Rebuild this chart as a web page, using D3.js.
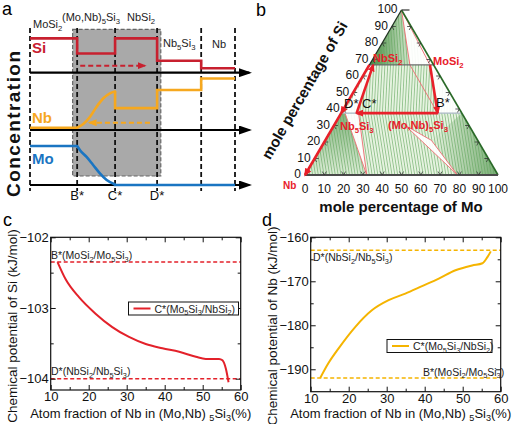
<!DOCTYPE html>
<html>
<head>
<meta charset="utf-8">
<script src="https://cdn.jsdelivr.net/npm/d3@7/dist/d3.min.js"></script>
<style>
  body { margin: 0; background: #fff; }
  svg text { font-family: Arial, "Liberation Sans", Helvetica, sans-serif; }
</style>
</head>
<body>
<svg id="fig" width="520" height="424"></svg>
<script>
// ---------- panel a : schematic concentration profiles ----------
const aBounds = [0, 23, 41.5, 62, 83.5, 100];          // interfaces along the couple (schematic %)
const aPhases = ["MoSi_2", "(Mo,Nb)_5Si_3", "NbSi_2", "Nb_5Si_3", "Nb"];
const aInterfaces = ["B*", "C*", "D*"];
const siLevels = [66, 37, 66, 23, 8.5];
const nbLevels = [4.4, null, 42, 77, 99];
const moLevels = [75, null, 0, 0, 0];
const nbRiseX = [23, 26, 29.3, 32.5, 35.8, 39, 41.5];
const nbRiseC = [4.4, 11.5, 25.6, 44.8, 61, 70.6, 74];
const moDropX = [23, 24.4, 27.6, 30.8, 34.1, 37.4, 41.5];
const moDropC = [75, 67, 54, 38.5, 22.5, 9.6, 1];

// ---------- panel b : Mo-Nb-Si isothermal section (Mo %, Si %) ----------
const ternTicks = [0, 10, 20, 30, 40, 50, 60, 70, 80, 90, 100];
const siliLines = [66.7, 37.5];
const hatchLow = [[0, 0], [100, 0], [62.5, 37.5], [0, 37.5]];
const hatchMid = [[0, 37.5], [62.5, 37.5], [33.3, 66.7], [0, 66.7]];
const hatchTop = [[0, 66.7], [33.3, 66.7], [0, 100]];
const darkFan = [[0, 100], [0, 66.7], [21, 66.7]];
const darkNb = [[0, 37.5], [2, 37.5], [32, 0], [0, 0]];
const darkRight = [[79, 0], [100, 0], [62.5, 37.5], [55, 21]];
const whiteRegions = [
  [[0, 100], [21, 66.7], [33.3, 66.7]],
  [[31.4, 66.7], [33.3, 66.7], [62.5, 37.5], [50, 37.5]],
  [[0.8, 66.7], [2, 66.7], [8, 37.5], [1.5, 37.5]],
  [[2, 37.5], [9, 37.5], [32, 0]],
  [[37, 30], [55, 21], [79, 0]]
];
const pinkFrom = [[0, 100], [0, 100], [21, 66.7], [2, 37.5], [9, 37.5], [37, 30], [55, 21], [37, 30]];
const pinkTo = [[21, 66.7], [31.4, 66.7], [50, 37.5], [32, 0], [32, 0], [79, 0], [79, 0], [55, 21]];
const pathFrom = [[31.4, 66.7], [50, 37.5], [8, 37.5], [0, 66.7], [0, 37.5]];
const pathTo = [[50, 37.5], [8, 37.5], [2, 66.7], [0, 37.5], [0, 0]];

// ---------- panels c, d : chemical potentials vs Nb in (Mo,Nb)5Si3 ----------
const nbFracTicks = [10, 20, 30, 40, 50, 60];
const nbFracMinor = [15, 25, 35, 45, 55];
const muSiTicks = [-102, -103, -104];
const muSiMinor = [-102.5, -103.5];
const muSiB = -102.35;
const muSiD = -104.0;
const muSiX = [11.8, 13.9, 17.5, 21.8, 26.2, 30.6, 35, 39.4, 43.8, 48.2, 50.8, 54.3, 55.2, 56.1, 56.8];
const muSiY = [-102.35, -102.59, -102.85, -103.08, -103.27, -103.41, -103.51, -103.57, -103.62, -103.69, -103.72, -103.72, -103.74, -103.86, -104.05];
const muNbTicks = [-160, -170, -180, -190];
const muNbMinor = [-165, -175, -185];
const muNbB = -192.0;
const muNbD = -162.95;
const muNbX = [12.5, 14.6, 17.3, 21.7, 26.1, 30.5, 34.9, 39.3, 43.7, 48.1, 52.5, 55.2, 56.5, 57.4];
const muNbY = [-192, -188.7, -185.3, -180.4, -176.6, -174.3, -172.8, -171.1, -169.4, -167.5, -166.4, -165.9, -164.5, -163.2];

const RED_A = "#c8202f", ORANGE_A = "#f6a81f", BLUE_A = "#1a75c2";
const RED = "#e3212a", GOLD = "#f5b400";

const svg = d3.select("#fig");
const defs = svg.append("defs");

function marker(id, color, len, wid) {
  defs.append("marker").attr("id", id)
    .attr("viewBox", "0 0 10 10").attr("refX", 8).attr("refY", 5)
    .attr("markerUnits", "userSpaceOnUse")
    .attr("markerWidth", len).attr("markerHeight", wid)
    .attr("preserveAspectRatio", "none")
    .attr("orient", "auto")
    .append("path").attr("d", "M0,0L10,5L0,10z").attr("fill", color);
}
marker("arrBlack", "#000", 13, 9);
marker("arrRedA", RED_A, 9, 7);
marker("arrOrA", ORANGE_A, 9, 7);
marker("arrRed", "#e8202a", 8, 7);

// subscript helper: "_x" -> subscript x
function rich(sel, str, size) {
  const parts = str.split(/(_\w)/).filter(s => s !== "");
  let down = false;
  parts.forEach(p => {
    if (p[0] === "_") {
      sel.append("tspan").attr("dy", down ? 0 : size * 0.25).attr("font-size", size * 0.7).text(p.slice(1));
      down = true;
    } else {
      sel.append("tspan").attr("dy", down ? -size * 0.25 : 0).text(p);
      down = false;
    }
  });
  return sel;
}

// ================= panel a =================
const xa = d3.scaleLinear().domain([0, 100]).range([30, 235]);
const laneBase = [72.7, 130, 185];
const [ySi, yNb, yMo] = laneBase.map(b => d3.scaleLinear().domain([0, 100]).range([b, b - 52]));
const ga = svg.append("g");

ga.append("rect")
  .attr("x", xa(20.8)).attr("y", 29.3)
  .attr("width", xa(63.8) - xa(20.8)).attr("height", 146.7)
  .attr("fill", "#a9a9a9").attr("stroke", "#666")
  .attr("stroke-width", 1.2).attr("stroke-dasharray", "4,2");

ga.selectAll(".bnd").data(aBounds).join("line")
  .attr("x1", d => xa(d)).attr("x2", d => xa(d))
  .attr("y1", 28).attr("y2", 191)
  .attr("stroke", "#111").attr("stroke-width", 1.8).attr("stroke-dasharray", "5,3");

ga.selectAll(".ax").data(laneBase).join("line")
  .attr("x1", xa(0)).attr("x2", xa(107))
  .attr("y1", d => d).attr("y2", d => d)
  .attr("stroke", "#000").attr("stroke-width", 2.2)
  .attr("marker-end", "url(#arrBlack)");

function stepPts(levels, curveX, curveC) {
  const pts = [];
  levels.forEach((c, i) => {
    if (c === null) {
      pts.push([curveX[0], curveC[0]], null, [curveX[curveX.length - 1], curveC[curveC.length - 1]]);
    } else {
      pts.push([aBounds[i], c], [aBounds[i + 1], c]);
    }
  });
  return pts;
}
function drawProfile(levels, yS, color, cx, cy) {
  const line = d3.line().defined(d => d !== null).x(d => xa(d[0])).y(d => yS(d[1]));
  ga.append("path").attr("d", line(stepPts(levels, cx || [], cy || [])))
    .attr("fill", "none").attr("stroke", color).attr("stroke-width", 2.6)
    .attr("stroke-linejoin", "miter");
  if (cx) {
    const cl = d3.line().curve(d3.curveMonotoneX).x(d => xa(d[0])).y(d => yS(d[1]));
    ga.append("path").attr("d", cl(cx.map((x, i) => [x, cy[i]])))
      .attr("fill", "none").attr("stroke", color).attr("stroke-width", 2.6)
      .attr("stroke-linecap", "round");
  }
}
drawProfile(siLevels, ySi, RED_A);
drawProfile(nbLevels, yNb, ORANGE_A, nbRiseX, nbRiseC);
drawProfile(moLevels, yMo, BLUE_A, moDropX, moDropC);

ga.append("line")
  .attr("x1", xa(24.5)).attr("x2", xa(56)).attr("y1", ySi(13.5)).attr("y2", ySi(13.5))
  .attr("stroke", RED_A).attr("stroke-width", 2).attr("stroke-dasharray", "5,3")
  .attr("marker-end", "url(#arrRedA)");
ga.append("line")
  .attr("x1", xa(58.5)).attr("x2", xa(29)).attr("y1", yNb(14)).attr("y2", yNb(14))
  .attr("stroke", ORANGE_A).attr("stroke-width", 2).attr("stroke-dasharray", "5,3")
  .attr("marker-end", "url(#arrOrA)");

const phaseLabelPos = [[33, 28], [62, 21], [127, 21], [163, 47], [212, 48]];
aPhases.forEach((p, i) => {
  rich(ga.append("text").attr("x", phaseLabelPos[i][0]).attr("y", phaseLabelPos[i][1])
    .attr("font-size", 11).attr("fill", "#222"), p, 11);
});
ga.selectAll(".ifl").data(aInterfaces).join("text")
  .attr("x", (d, i) => xa(aBounds[i + 1])).attr("y", 200)
  .attr("text-anchor", "middle").attr("font-size", 13).attr("fill", "#111")
  .text(d => d);
[["Si", 53, RED_A], ["Nb", 123, ORANGE_A], ["Mo", 164, BLUE_A]].forEach(([t, y, c]) => {
  ga.append("text").attr("x", 32).attr("y", y).attr("font-size", 15)
    .attr("font-weight", "bold").attr("fill", c).text(t);
});
ga.append("text").attr("transform", "translate(20,124) rotate(-90)")
  .attr("text-anchor", "middle").attr("font-size", 19).attr("font-weight", "bold")
  .attr("textLength", 146).attr("lengthAdjust", "spacing").attr("fill", "#111")
  .text("Concentration");
svg.append("text").attr("x", 2).attr("y", 15).attr("font-size", 18).text("a");

// ================= panel b =================
const tX = d3.scaleLinear().domain([0, 100]).range([305, 498]);
const tY = d3.scaleLinear().domain([0, 100]).range([175, 10]);
const tern = ([mo, si]) => [tX(mo + si / 2), tY(si)];
const poly = pts => "M" + pts.map(p => tern(p).join(",")).join("L") + "Z";
const gb = svg.append("g");

function hatch(id, angle) {
  const p = defs.append("pattern").attr("id", id).attr("patternUnits", "userSpaceOnUse")
    .attr("width", 2.8).attr("height", 6).attr("patternTransform", `rotate(${angle})`);
  p.append("line").attr("x1", 1.4).attr("x2", 1.4).attr("y1", 0).attr("y2", 6)
    .attr("stroke", "#5fa55a").attr("stroke-width", 0.6);
}
hatch("hatchLow", -9);
hatch("hatchMid", 3);
hatch("hatchTop", -4);

function grad(id, x2, y2, op0, op1) {
  const g = defs.append("linearGradient").attr("id", id)
    .attr("x1", 0).attr("y1", 0).attr("x2", x2).attr("y2", y2);
  g.append("stop").attr("offset", "0%").attr("stop-color", "#2f7d2c").attr("stop-opacity", op0);
  g.append("stop").attr("offset", "100%").attr("stop-color", "#2f7d2c").attr("stop-opacity", op1);
}
grad("gFan", 1, 0, 0.9, 0.1);
grad("gNb", 0, 1, 0.55, 0.05);
grad("gRight", 1, 0, 0.0, 0.6);

gb.append("path").attr("d", poly([[0, 0], [100, 0], [0, 100]])).attr("fill", "#e6f3e0");
gb.append("path").attr("d", poly(darkFan)).attr("fill", "url(#gFan)");
gb.append("path").attr("d", poly(darkNb)).attr("fill", "url(#gNb)");
gb.append("path").attr("d", poly(darkRight)).attr("fill", "url(#gRight)");
gb.append("path").attr("d", poly(hatchLow)).attr("fill", "url(#hatchLow)");
gb.append("path").attr("d", poly(hatchMid)).attr("fill", "url(#hatchMid)");
gb.append("path").attr("d", poly(hatchTop)).attr("fill", "url(#hatchTop)");
gb.selectAll(".wr").data(whiteRegions).join("path")
  .attr("d", d => poly(d)).attr("fill", "#fff").attr("fill-opacity", 0.93);

gb.selectAll(".pk").data(pinkFrom).join("line")
  .attr("x1", d => tern(d)[0]).attr("y1", d => tern(d)[1])
  .attr("x2", (d, i) => tern(pinkTo[i])[0]).attr("y2", (d, i) => tern(pinkTo[i])[1])
  .attr("stroke", "#ee6a70").attr("stroke-width", 0.9);

gb.selectAll(".sl").data(siliLines).join("line")
  .attr("x1", d => tern([0, d])[0]).attr("x2", d => tern([100 - d, d])[0])
  .attr("y1", d => tY(d)).attr("y2", d => tY(d))
  .attr("stroke", (d, i) => i === 0 ? "#6b6b6b" : "#a9b7c4").attr("stroke-width", 1.3);

// edges
gb.append("line").attr("x1", tern([0, 0])[0]).attr("y1", tY(0)).attr("x2", tern([0, 100])[0]).attr("y2", tY(100))
  .attr("stroke", "#223322").attr("stroke-width", 1.3);
gb.append("line").attr("x1", tern([100, 0])[0]).attr("y1", tY(0)).attr("x2", tern([0, 100])[0]).attr("y2", tY(100))
  .attr("stroke", "#2a6a28").attr("stroke-width", 1.6);
gb.append("line").attr("x1", tX(0)).attr("y1", tY(0)).attr("x2", tX(100)).attr("y2", tY(0))
  .attr("stroke", "#4a4a4a").attr("stroke-width", 2.2);

// ternary ticks
const tk = 4, c60 = 0.5, s60 = 0.866;
ternTicks.slice(1, -1).forEach(v => {
  const [bx, by] = tern([v, 0]);
  gb.append("path").attr("d", `M${bx - tk * c60},${by - tk * s60}L${bx},${by}L${bx + tk * c60},${by - tk * s60}`)
    .attr("fill", "none").attr("stroke", "#333").attr("stroke-width", 0.8);
  const [lx, ly] = tern([0, v]);
  gb.append("path").attr("d", `M${lx + tk},${ly}L${lx},${ly}L${lx + tk * c60},${ly + tk * s60}`)
    .attr("fill", "none").attr("stroke", "#333").attr("stroke-width", 0.8);
  const [rx, ry] = tern([100 - v, v]);
  gb.append("path").attr("d", `M${rx - tk},${ry}L${rx},${ry}L${rx - tk * c60},${ry + tk * s60}`)
    .attr("fill", "none").attr("stroke", "#333").attr("stroke-width", 0.8);
});
gb.append("line").attr("x1", tern([0, 100])[0]).attr("x2", tern([0, 100])[0] + 8)
  .attr("y1", tY(100)).attr("y2", tY(100)).attr("stroke", "#333").attr("stroke-width", 1.2);

gb.selectAll(".bt").data(ternTicks).join("text")
  .attr("x", d => tern([d, 0])[0]).attr("y", 193)
  .attr("text-anchor", "middle").attr("font-size", 12).attr("fill", "#111").text(d => d);
gb.selectAll(".lt").data(ternTicks).join("text")
  .attr("x", d => tern([0, d])[0] - 4).attr("y", d => tern([0, d])[1] + 3)
  .attr("text-anchor", "end").attr("font-size", 12).attr("fill", "#111").text(d => d);

gb.append("text").attr("x", 401).attr("y", 212).attr("text-anchor", "middle")
  .attr("font-size", 15).attr("font-weight", "bold").attr("fill", "#111").text("mole percentage of Mo");
gb.append("text").attr("transform", "translate(309,93) rotate(-60)").attr("text-anchor", "middle")
  .attr("font-size", 15).attr("font-weight", "bold").attr("fill", "#111").text("mole percentage of Si");

// diffusion path
gb.selectAll(".rp").data(pathFrom).join("line")
  .attr("x1", d => tern(d)[0]).attr("y1", d => tern(d)[1])
  .attr("x2", (d, i) => tern(pathTo[i])[0]).attr("y2", (d, i) => tern(pathTo[i])[1])
  .attr("stroke", "#e8202a").attr("stroke-width", 2.6)
  .attr("marker-end", "url(#arrRed)");

[["NbSi_2", 373, 62], ["MoSi_2", 433, 65], ["Nb_5Si_3", 340, 130], ["(Mo,Nb)_5Si_3", 388, 129]].forEach(([t, x, y]) => {
  rich(gb.append("text").attr("x", x).attr("y", y).attr("font-size", 11)
    .attr("font-weight", "bold").attr("fill", "#e8202a"), t, 11);
});
gb.append("text").attr("x", 283).attr("y", 189).attr("font-size", 10)
  .attr("font-weight", "bold").attr("fill", "#e8202a").text("Nb");
[["D*", 344, 108], ["C*", 362, 108], ["B*", 436, 107]].forEach(([t, x, y]) => {
  gb.append("text").attr("x", x).attr("y", y).attr("font-size", 13).attr("fill", "#111").text(t);
});
svg.append("text").attr("x", 256).attr("y", 16).attr("font-size", 18).text("b");

// ================= panels c, d =================
function potentialPanel(o) {
  const x = d3.scaleLinear().domain([10, 60]).range([o.left, o.right]);
  const y = d3.scaleLinear().domain(o.yDomain).range([o.bottom, o.top]);
  const g = svg.append("g");

  [o.lineB, o.lineD].forEach(v => {
    g.append("line").attr("x1", o.left).attr("x2", o.right).attr("y1", y(v)).attr("y2", y(v))
      .attr("stroke", o.color).attr("stroke-width", 1.4).attr("stroke-dasharray", "4,2.5");
  });
  const line = d3.line().curve(d3.curveMonotoneX).x(d => x(d[0])).y(d => y(d[1]));
  g.append("path").attr("d", line(o.xs.map((v, i) => [v, o.ys[i]])))
    .attr("fill", "none").attr("stroke", o.color).attr("stroke-width", 2);

  const fmt = d3.format("d");
  const axes = [
    [d3.axisBottom(x).tickValues(nbFracTicks).tickFormat(fmt), `translate(0,${o.bottom})`],
    [d3.axisTop(x).tickValues(nbFracTicks).tickFormat(""), `translate(0,${o.top})`],
    [d3.axisLeft(y).tickValues(o.yTicks).tickFormat(fmt), `translate(${o.left},0)`],
    [d3.axisRight(y).tickValues(o.yTicks).tickFormat(""), `translate(${o.right},0)`],
    [d3.axisBottom(x).tickValues(nbFracMinor).tickFormat(""), `translate(0,${o.bottom})`],
    [d3.axisTop(x).tickValues(nbFracMinor).tickFormat(""), `translate(0,${o.top})`],
    [d3.axisLeft(y).tickValues(o.yMinor).tickFormat(""), `translate(${o.left},0)`],
    [d3.axisRight(y).tickValues(o.yMinor).tickFormat(""), `translate(${o.right},0)`]
  ];
  axes.forEach(([ax, tr], i) => {
    ax.tickSize(i < 4 ? -5 : -3).tickPadding(2).tickSizeOuter(0);
    const a = g.append("g").attr("transform", tr).call(ax);
    a.select(".domain").remove();
    a.selectAll("line").attr("stroke", "#111").attr("stroke-width", 1);
    a.selectAll("text").attr("font-size", 13).attr("fill", "#111");
  });
  g.append("rect").attr("x", o.left).attr("y", o.top)
    .attr("width", o.right - o.left).attr("height", o.bottom - o.top)
    .attr("fill", "none").attr("stroke", "#111").attr("stroke-width", 1.2);

  rich(g.append("text").attr("x", o.labBpos[0]).attr("y", o.labBpos[1]).attr("font-size", 10.5).attr("fill", "#222"), o.labB, 10.5);
  rich(g.append("text").attr("x", o.labDpos[0]).attr("y", o.labDpos[1]).attr("font-size", 10.5).attr("fill", "#222"), o.labD, 10.5);

  const lg = o.legend;
  g.append("rect").attr("x", lg[0]).attr("y", lg[1]).attr("width", lg[2]).attr("height", 13)
    .attr("fill", "#fff").attr("stroke", "#111").attr("stroke-width", 1);
  g.append("line").attr("x1", lg[0] + 5).attr("x2", lg[0] + 22).attr("y1", lg[1] + 6.5).attr("y2", lg[1] + 6.5)
    .attr("stroke", o.color).attr("stroke-width", 2);
  rich(g.append("text").attr("x", lg[0] + 26).attr("y", lg[1] + 10.5).attr("font-size", 10.5).attr("fill", "#222"),
    "C*(Mo_5Si_3/NbSi_2)", 10.5);

  g.append("text").attr("transform", `translate(${o.left - 34},326) rotate(-90)`)
    .attr("text-anchor", "middle").attr("font-size", 13.5).attr("fill", "#111").text(o.yTitle);
  rich(g.append("text").attr("x", o.left + 90).attr("y", 418).attr("text-anchor", "middle")
    .attr("font-size", 13).attr("fill", "#111"), "Atom fraction of Nb in (Mo,Nb) _5Si_3(%)", 13);
}

potentialPanel({
  left: 50.7, right: 240.7, top: 237.3, bottom: 390,
  yDomain: [-104.16, -102], yTicks: muSiTicks, yMinor: muSiMinor,
  xs: muSiX, ys: muSiY, color: RED,
  lineB: muSiB, lineD: muSiD,
  labB: "B*(MoSi_2/Mo_5Si_3)", labBpos: [51, 259],
  labD: "D*(NbSi_2/Nb_5Si_3)", labDpos: [51, 375],
  legend: [128.5, 302, 110],
  yTitle: "Chemical potential of Si (kJ/mol)"
});
potentialPanel({
  left: 310.7, right: 500.7, top: 237.3, bottom: 391.7,
  yDomain: [-195.1, -160], yTicks: muNbTicks, yMinor: muNbMinor,
  xs: muNbX, ys: muNbY, color: GOLD,
  lineB: muNbB, lineD: muNbD,
  labB: "B*(MoSi_2/Mo_5Si_3)", labBpos: [423, 375.5],
  labD: "D*(NbSi_2/Nb_5Si_3)", labDpos: [313, 261],
  legend: [387, 339.5, 105],
  yTitle: "Chemical potential of Nb (kJ/mol)"
});
svg.append("text").attr("x", 3).attr("y", 226).attr("font-size", 18).text("c");
svg.append("text").attr("x", 262).attr("y", 226).attr("font-size", 18).text("d");
</script>
</body>
</html>
